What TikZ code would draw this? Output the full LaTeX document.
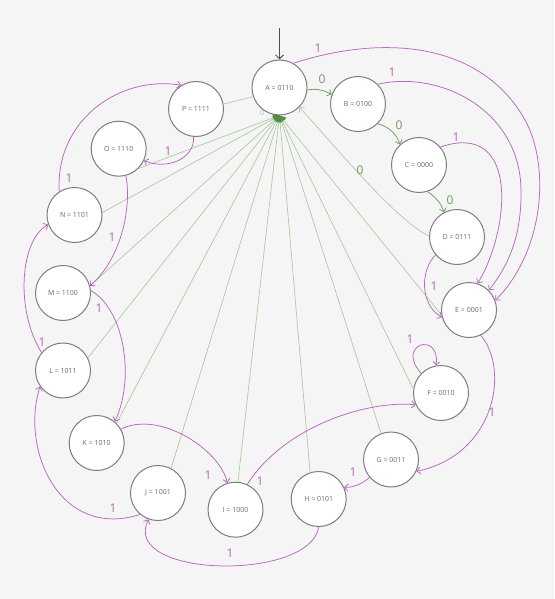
\documentclass[tikz,border=0pt]{standalone}
\usepackage{fontspec}
\newfontfamily\nodefont{Open Sans}
\usetikzlibrary{arrows.meta}
\definecolor{bg}{RGB}{245,245,245}
\definecolor{ring}{RGB}{125,125,125}
\definecolor{txt}{RGB}{105,105,105}
\definecolor{pur}{RGB}{184,102,190}
\definecolor{lgreen}{RGB}{165,198,150}
\definecolor{dgreen}{RGB}{108,158,92}
\definecolor{tgreen}{RGB}{88,140,72}
\definecolor{dark}{RGB}{80,80,80}
\begin{document}
\begin{tikzpicture}[x=1pt,y=-1pt,
 st/.style={circle,draw=ring,line width=1pt,fill=white,minimum size=55pt,inner sep=0pt,font=\nodefont\fontsize{7}{8}\selectfont,text=txt},
 pe/.style={draw=pur,line width=0.75pt,-{Straight Barb[length=3.5pt,width=7pt]}},
 ge/.style={draw=dgreen,line width=0.75pt,-{Straight Barb[length=3.5pt,width=7pt]}},
 gl/.style={draw=lgreen,line width=0.6pt,-{Triangle[length=6pt,width=8pt,color=tgreen]}},
 glp/.style={draw=lgreen,line width=0.6pt},
 sa/.style={draw=dark,line width=0.9pt,-{Straight Barb[length=4pt,width=8pt]}},
 plab/.style={font=\nodefont\fontsize{12}{12}\selectfont,text=pur,inner sep=0pt},
 glab/.style={font=\nodefont\fontsize{12}{12}\selectfont,text=dgreen,inner sep=0pt},
]
\fill[bg] (0,0) rectangle (554,599);
\useasboundingbox (0,0) rectangle (554,599);

% states
\node[st] (A) at (279.5,87.5) {A = 0110};
\node[st] (B) at (358,104) {B = 0100};
\node[st] (C) at (419,165) {C = 0000};
\node[st] (D) at (457,237) {D = 0111};
\node[st] (E) at (469,310) {E = 0001};
\node[st] (F) at (441,393) {F = 0010};
\node[st] (G) at (391,459.5) {G = 0011};
\node[st] (H) at (318.7,499) {H = 0101};
\node[st] (I) at (235.5,509.7) {I = 1000};
\node[st] (J) at (158,493) {J = 1001};
\node[st] (K) at (96.7,443) {K = 1010};
\node[st] (L) at (63,370.5) {L = 1011};
\node[st] (M) at (63,293) {M = 1100};
\node[st] (N) at (74.5,215) {N = 1101};
\node[st] (O) at (118.7,148.7) {O = 1110};
\node[st] (P) at (196,109) {P = 1111};

% start arrow
\coordinate (start) at (279.5,28);
\draw[sa] (start) -- (A.north);

% light green lines into A
\draw[glp] (P.10) -- (A.199);
\draw[gl] (O.-45) -- (A.south);
\draw[gl] (N.5) -- (A.south);
\draw[gl] (M.15) -- (A.south);
\draw[gl] (L.27) -- (A.south);
\draw[gl] (K.45) -- (A.south);
\draw[gl] (J.62) -- (A.south);
\draw[gl] (I.85) -- (A.south);
\draw[gl] (H.108) -- (A.south);
\draw[gl] (G.111) -- (A.south);
\draw[gl] (F.172) -- (A.south);
\draw[gl] (E.190) -- (A.south);
\draw[glp,-{Straight Barb[length=3.5pt,width=7pt]}] (D.178) .. controls (395,220) and (330,140) .. (A.-45);

% dark green edges
\draw[ge] (A.-5) .. controls (318,88) and (325,91) .. (B.160);
\draw[ge] (B.-45) .. controls (390,127) and (397,135) .. (C.133);
\draw[ge] (C.-72) .. controls (437,198) and (442,205) .. (D.118);

% purple edges
\draw[pe] (A.60) .. controls (380,35) and (480,40) .. (525,120) .. controls (550,165) and (545,250) .. (E.20);
\draw[pe] (B.45) .. controls (440,70) and (520,110) .. (521,190) .. controls (522,240) and (505,270) .. (E.45);
\draw[pe] (C.40) .. controls (520,120) and (510,230) .. (E.72);
\draw[pe] (D.220) .. controls (420,270) and (420,305) .. (E.195);
\draw[pe] (E.-65) .. controls (510,370) and (495,455) .. (G.-25);
\draw[pe] (F.135) .. controls (395,345) and (440,330) .. (F.100);
\draw[pe] (G.220) .. controls (362,484) and (352,488) .. (H.25);
\draw[pe] (H.-90) .. controls (310,582) and (120,578) .. (J.250);
\draw[pe] (I.65) .. controls (285,425) and (370,400) .. (F.205);
\draw[pe] (K.30) .. controls (160,410) and (220,450) .. (I.107);
\draw[pe] (J.230) .. controls (60,540) and (20,450) .. (L.215);
\draw[pe] (L.140) .. controls (15,310) and (20,240) .. (N.200);
\draw[pe] (N.123) .. controls (55,120) and (120,75) .. (P.122);
\draw[pe] (P.265) .. controls (195,160) and (165,170) .. (O.-25);
\draw[pe] (O.-75) .. controls (132,210) and (120,260) .. (M.15);
\draw[pe] (M.5) .. controls (125,310) and (135,380) .. (K.50);

% labels
\node[plab] (l1) at (318,48) {1};
\node[plab] (l2) at (392,72) {1};
\node[plab] (l3) at (456,137) {1};
\node[plab] (l4) at (434,286) {1};
\node[plab] (l5) at (492,412) {1};
\node[plab] (l6) at (410,339) {1};
\node[plab] (l7) at (353,472) {1};
\node[plab] (l8) at (230,553) {1};
\node[plab] (l9) at (260,481) {1};
\node[plab] (l10) at (208,475) {1};
\node[plab] (l11) at (113,508) {1};
\node[plab] (l12) at (42,342) {1};
\node[plab] (l13) at (69,178) {1};
\node[plab] (l14) at (168,151) {1};
\node[plab] (l15) at (112,237) {1};
\node[plab] (l16) at (99,308) {1};
\node[glab] (g1) at (322,79) {0};
\node[glab] (g2) at (399,125) {0};
\node[glab] (g3) at (450,200) {0};
\node[glab] (g4) at (360,170) {0};
\node[glab,font=\nodefont\fontsize{7}{7}\selectfont,text=lgreen] (g5) at (262,113) {0};
\end{tikzpicture}
\end{document}
